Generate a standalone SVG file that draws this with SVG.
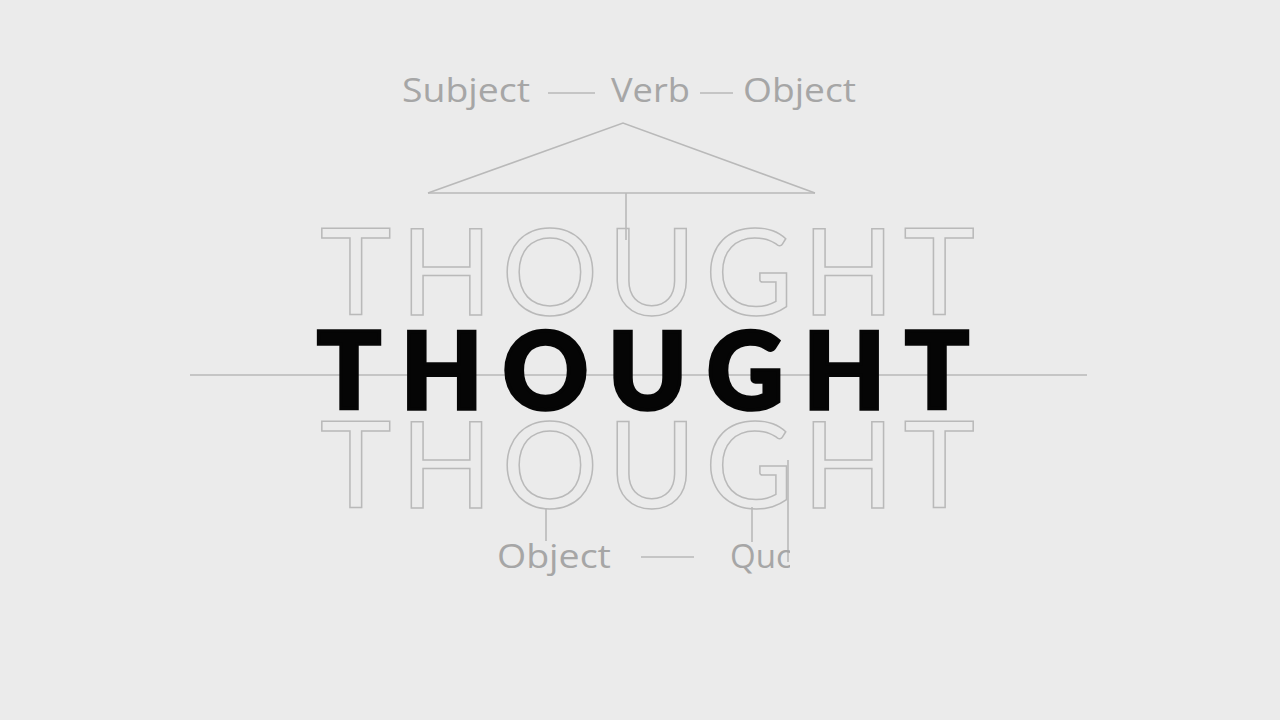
<svg xmlns="http://www.w3.org/2000/svg" width="1280" height="720" viewBox="0 0 1280 720">
<style>
.lbl{font-family:"Open Sans","Noto Sans",sans-serif;font-size:33px;fill:#a6a6a6}
.ln{stroke:#b9b9b9;stroke-width:1.6;fill:none}
.out{font-family:Lato,"Open Sans",sans-serif;font-size:121px;font-weight:400;fill:none;stroke:#b9b9b9;stroke-width:1.5}
.bold{font-family:Lato,"Liberation Sans",sans-serif;font-size:106px;font-weight:900;fill:#050505;stroke:#050505;stroke-width:3.5}
</style>
<defs><clipPath id="qc"><rect x="700" y="520" width="90" height="70"/></clipPath></defs>
<rect width="1280" height="720" fill="#ebebeb"/>
<g id="connectors">
<polyline class="ln" points="428,193 623,123 815,193"/>
<line class="ln" x1="428" y1="193" x2="815" y2="193"/>
<line class="ln" x1="626" y1="193" x2="626" y2="240"/>
<line class="ln" x1="190" y1="375" x2="1087" y2="375"/>
<line class="ln" x1="546" y1="508" x2="546" y2="541"/>
<line class="ln" x1="752" y1="507" x2="752" y2="542"/>
<line class="ln" x1="788" y1="460" x2="788" y2="562"/>
<line class="ln" x1="548" y1="93" x2="595" y2="93"/>
<line class="ln" x1="700" y1="93" x2="733" y2="93"/>
<line class="ln" x1="641" y1="557" x2="694" y2="557"/>
</g>
<g id="thought-outline-top"><text class="out" x="320" y="315" textLength="655" lengthAdjust="spacing">THOUGHT</text></g>
<g id="thought-outline-bottom"><text class="out" x="320" y="508" textLength="655" lengthAdjust="spacing">THOUGHT</text></g>
<g id="thought-bold"><text class="bold" x="317" y="409" textLength="652" lengthAdjust="spacing">THOUGHT</text></g>
<g id="subject"><text class="lbl" x="402" y="102" textLength="128" lengthAdjust="spacingAndGlyphs">Subject</text></g>
<g id="verb"><text class="lbl" x="611" y="102" textLength="79" lengthAdjust="spacingAndGlyphs">Verb</text></g>
<g id="object-top"><text class="lbl" x="743" y="102" textLength="113" lengthAdjust="spacingAndGlyphs">Object</text></g>
<g id="object-bottom"><text class="lbl" x="497" y="568" textLength="114" lengthAdjust="spacingAndGlyphs">Object</text></g>
<g id="question"><text class="lbl" x="730" y="568" clip-path="url(#qc)">Quc</text></g>
</svg>
